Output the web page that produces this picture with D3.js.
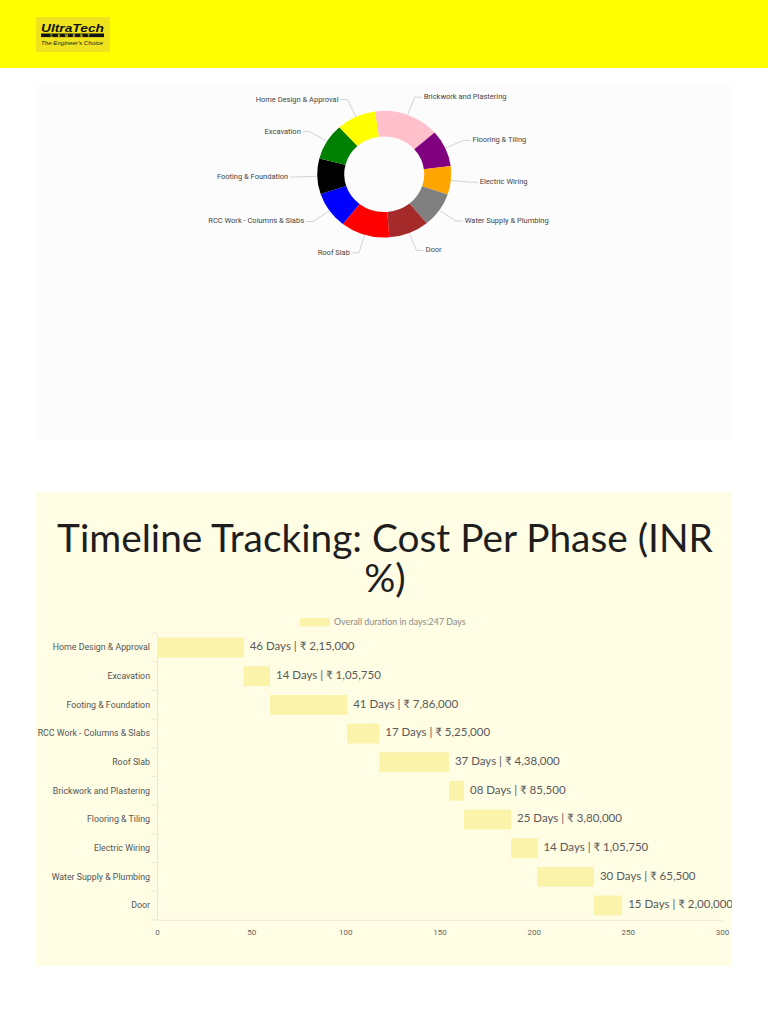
<!DOCTYPE html>
<html>
<head>
<meta charset="utf-8">
<script src="https://cdn.jsdelivr.net/npm/d3@7"></script>
<style>
  html, body { margin: 0; padding: 0; background: #ffffff; }
  svg { display: block; }
</style>
</head>
<body>
<svg id="chart" width="768" height="1024"></svg>
<script>
// ---------------- DATA ----------------
// Donut (clockwise from the top, as drawn)
const donutLabels = ["Brickwork and Plastering", "Flooring & Tiling", "Electric Wiring", "Water Supply & Plumbing", "Door", "Roof Slab", "RCC Work - Columns & Slabs", "Footing & Foundation", "Excavation", "Home Design & Approval"];
const donutValues = [15.7, 9.4, 7.2, 8.9, 9.7, 11.8, 9.3, 9.1, 9.3, 9.5];
const donutColors = ["pink", "purple", "orange", "gray", "brown", "red", "blue", "black", "green", "yellow"];

// Timeline bars
const phases = ["Home Design & Approval", "Excavation", "Footing & Foundation", "RCC Work - Columns & Slabs", "Roof Slab", "Brickwork and Plastering", "Flooring & Tiling", "Electric Wiring", "Water Supply & Plumbing", "Door"];
const phaseDays = [46, 14, 41, 17, 37, 8, 25, 14, 30, 15];
const phaseCost = [215000, 105750, 786000, 525000, 438000, 85500, 380000, 105750, 65500, 200000];
const xTicks = [0, 50, 100, 150, 200, 250, 300];
const titleLines = ["Timeline Tracking: Cost Per Phase (INR", "%)"];
const legendText = "Overall duration in days:247 Days";

// ---------------- HELPERS ----------------
function inr(n) {
  const s = String(n);
  if (s.length <= 3) return s;
  const last3 = s.slice(-3);
  const rest = s.slice(0, -3).replace(/\B(?=(\d{2})+(?!\d))/g, ",");
  return rest + "," + last3;
}
const pad2 = d => (d < 10 ? "0" + d : String(d));

const svg = d3.select("#chart");

// ---------------- HEADER ----------------
svg.append("rect").attr("x", 0).attr("y", 0).attr("width", 768).attr("height", 68).attr("fill", "#ffff00");
const logo = svg.append("g");
logo.append("rect").attr("x", 36).attr("y", 17).attr("width", 74).attr("height", 35).attr("fill", "#efe31e");
logo.append("text").attr("x", 41).attr("y", 32).attr("font-family", "Liberation Sans, Arial, sans-serif")
  .attr("font-weight", "bold").attr("font-style", "italic").attr("font-size", 11.5).attr("fill", "#111")
  .attr("textLength", 63).attr("lengthAdjust", "spacingAndGlyphs").text("UltraTech");
logo.append("rect").attr("x", 41).attr("y", 33.5).attr("width", 63).attr("height", 3.6).attr("fill", "#111");
logo.append("text").attr("x", 72.5).attr("y", 36.6).attr("text-anchor", "middle").attr("font-family", "Liberation Sans, Arial, sans-serif")
  .attr("font-weight", "bold").attr("font-size", 3.4).attr("fill", "#efe31e").attr("letter-spacing", 5).text("CEMENT");
logo.append("text").attr("x", 41).attr("y", 45).attr("font-family", "Liberation Sans, Arial, sans-serif")
  .attr("font-style", "italic").attr("font-size", 5.6).attr("fill", "#222")
  .attr("textLength", 62).attr("lengthAdjust", "spacingAndGlyphs").text("The Engineer's Choice");

// ---------------- DONUT CARD ----------------
svg.append("rect").attr("x", 36).attr("y", 85).attr("width", 696).attr("height", 356).attr("fill", "#fcfcfc");

const cx = 384.2, cy = 174.2, rOut = 67, rIn = 40, sy = 0.945;
const start = -7.8 * Math.PI / 180;
const pie = d3.pie().sort(null).value(d => d).startAngle(start).endAngle(start + 2 * Math.PI);
const arcs = pie(donutValues);
const arc = d3.arc().innerRadius(rIn).outerRadius(rOut);

svg.append("g").attr("transform", `translate(${cx},${cy}) scale(1,${sy})`)
  .selectAll("path").data(arcs).join("path")
  .attr("d", arc).attr("fill", (d, i) => donutColors[i]);

const pt = (a, r) => [cx + r * Math.sin(a), cy - r * Math.cos(a) * sy];
const lbl = svg.append("g");
arcs.forEach((d, i) => {
  const a = (d.startAngle + d.endAngle) / 2;
  const right = Math.sin(a) > 0;
  const p1 = pt(a, rOut), p2 = pt(a, rOut + 20);
  const p3 = [p2[0] + (right ? 7 : -7), p2[1]];
  lbl.append("polyline").attr("points", [p1, p2, p3].map(p => p.join(",")).join(" "))
    .attr("fill", "none").attr("stroke", "#d3d3d3").attr("stroke-width", 1);
  lbl.append("text").attr("x", p3[0] + (right ? 2 : -2)).attr("y", p3[1])
    .attr("dominant-baseline", "middle").attr("text-anchor", right ? "start" : "end")
    .attr("font-family", "Roboto, sans-serif").attr("font-size", 7.5).attr("fill", "#444")
    .text(donutLabels[i]);
});

// ---------------- TIMELINE CARD ----------------
const cardX = 36, cardY = 492, cardW = 696, cardH = 474;
svg.append("defs").append("clipPath").attr("id", "cardClip")
  .append("rect").attr("x", cardX).attr("y", cardY).attr("width", cardW).attr("height", cardH);
svg.append("rect").attr("x", cardX).attr("y", cardY).attr("width", cardW).attr("height", cardH).attr("fill", "#fffde4");

const card = svg.append("g").attr("clip-path", "url(#cardClip)");

// title
const titleY = [552, 592];
const titleTexts = titleLines.map((t, i) => card.append("text").attr("x", 385).attr("y", titleY[i]).attr("text-anchor", "middle")
  .attr("font-family", "Lato, sans-serif").attr("font-size", 38).attr("fill", "#1e1e1e").text(t));
const tfs = 38 * 656 / titleTexts[0].node().getComputedTextLength();
titleTexts.forEach(t => t.attr("font-size", tfs));

// scales
const x = d3.scaleLinear().domain([0, 300]).range([157, 722]);
const y = d3.scaleBand().domain(phases).range([633.2, 919.8]).paddingInner(0.31).paddingOuter(0.155);

const starts = [];
phaseDays.reduce((acc, d) => { starts.push(acc); return acc + d; }, 0);

// legend
const barColor = "#faf3a9";
card.append("rect").attr("x", 300).attr("y", 618).attr("width", 30).attr("height", 8.5).attr("fill", barColor);
card.append("text").attr("x", 334).attr("y", 622.5).attr("dominant-baseline", "middle")
  .attr("font-family", "Lato, sans-serif").attr("font-size", 8.9).attr("fill", "#8a8a8a").text(legendText);

// axes
const gy = card.append("g").attr("transform", `translate(${x(0)},0)`)
  .call(d3.axisLeft(y).tickSize(0).tickPadding(7));
gy.select(".domain").attr("stroke", "#ebe9d4");
gy.selectAll("text").attr("font-family", "Roboto, sans-serif").attr("font-size", 8.8).attr("fill", "#555");
// tick marks at band boundaries
const bounds = phases.map(p => y(p) - y.step() * y.paddingInner() / 2).concat([y.range()[1]]);
card.append("g").selectAll("line").data(bounds).join("line")
  .attr("x1", x(0) - 6).attr("x2", x(0)).attr("y1", d => d).attr("y2", d => d)
  .attr("stroke", "#ebe9d4");

const gx = card.append("g").attr("transform", `translate(0,${y.range()[1]})`)
  .call(d3.axisBottom(x).tickValues(xTicks).tickSize(0).tickPadding(10));
gx.select(".domain").attr("stroke", "#ebe9d4");
gx.selectAll("text").attr("font-family", "Roboto, sans-serif").attr("font-size", 8).attr("fill", "#666");

// bars
card.append("g").selectAll("rect").data(phases).join("rect")
  .attr("x", (d, i) => x(starts[i]))
  .attr("y", d => y(d))
  .attr("width", (d, i) => x(starts[i] + phaseDays[i]) - x(starts[i]))
  .attr("height", y.bandwidth())
  .attr("fill", barColor);

card.append("g").selectAll("text").data(phases).join("text")
  .attr("x", (d, i) => x(starts[i] + phaseDays[i]) + 6)
  .attr("y", d => y(d) + y.bandwidth() / 2)
  .attr("dominant-baseline", "middle")
  .attr("font-family", "Lato, sans-serif").attr("font-size", 11.5).attr("fill", "#5a5a5a")
  .text((d, i) => `${pad2(phaseDays[i])} Days | \u20B9 ${inr(phaseCost[i])}`);
</script>
</body>
</html>
